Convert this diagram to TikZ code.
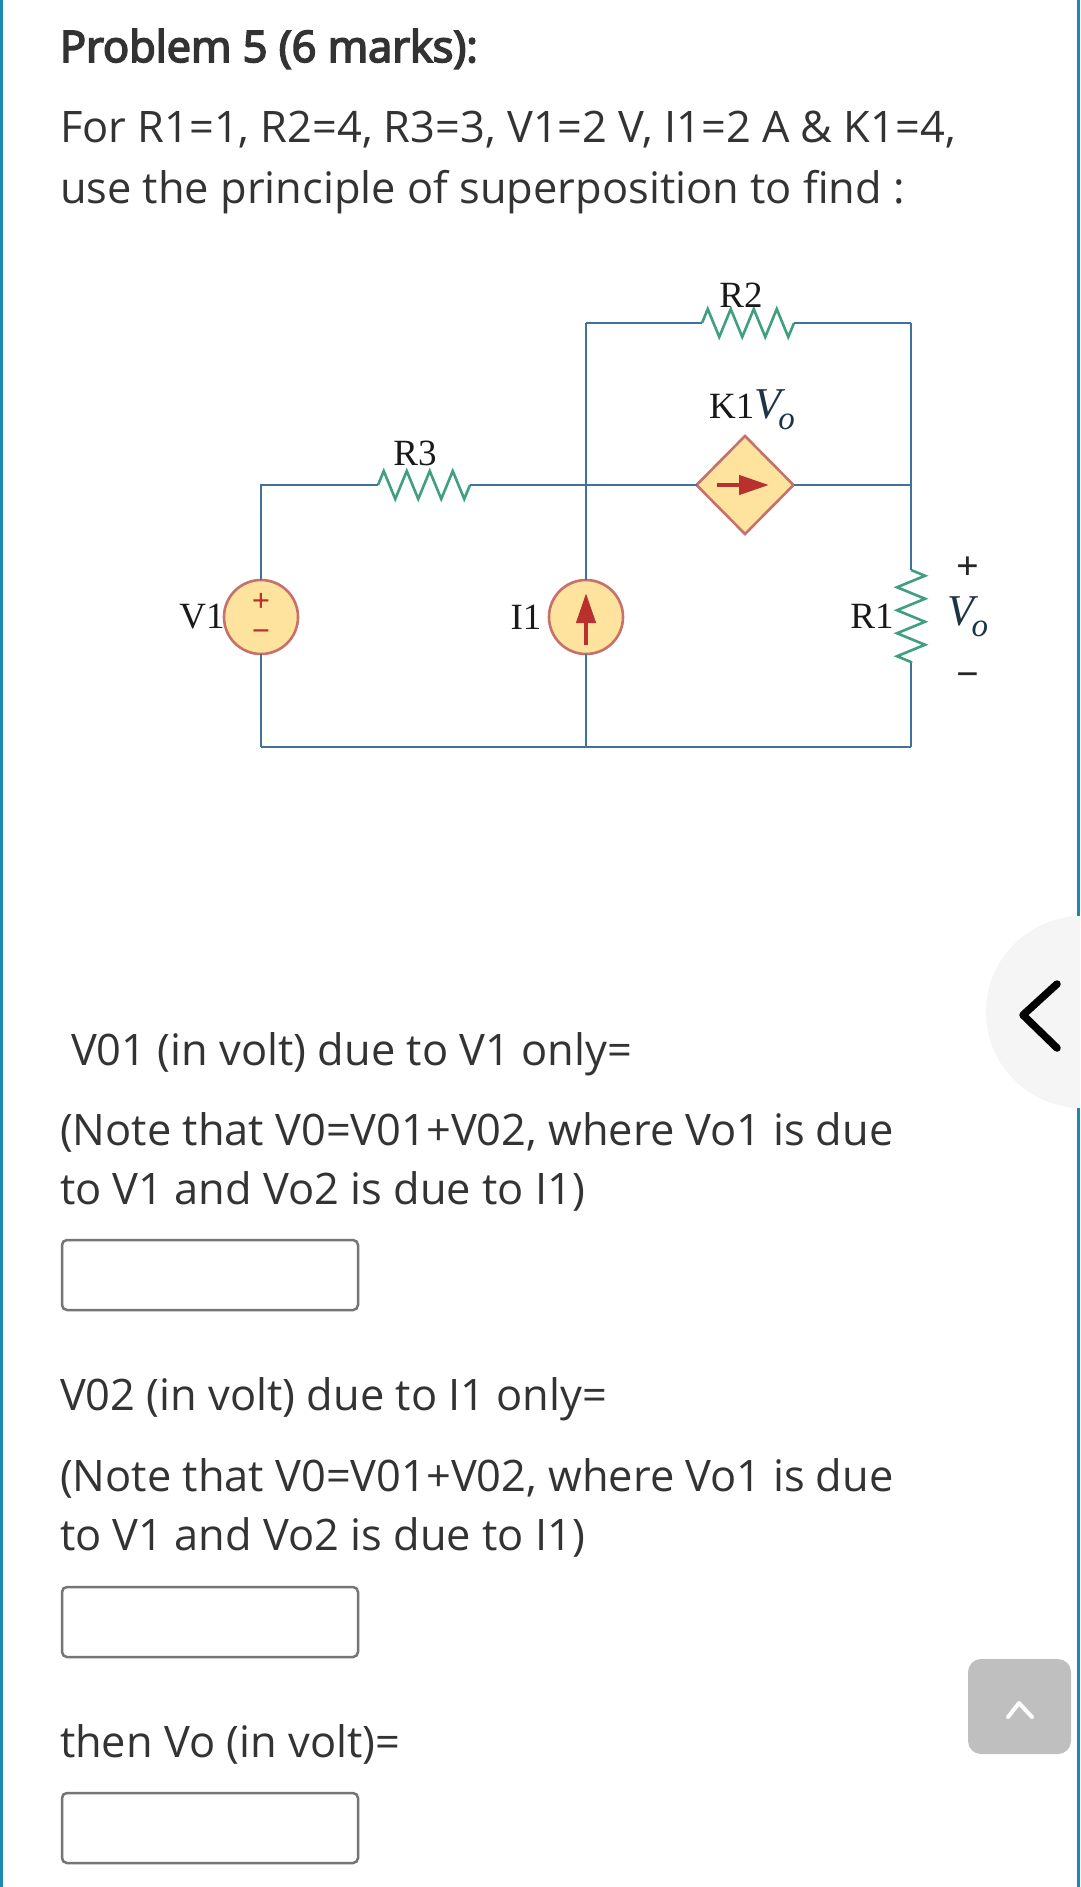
\documentclass[tikz,border=0pt]{standalone}
\usepackage{fontspec}
\setmainfont{Open Sans}
\newfontfamily\headfont[FakeBold=4]{Open Sans}
\newfontfamily\cktfont{Liberation Serif}
\usetikzlibrary{positioning, arrows.meta, shapes.geometric, decorations.pathmorphing}
\definecolor{wireblue}{HTML}{41729B}
\definecolor{resgreen}{HTML}{3F9F7F}
\definecolor{srcfill}{HTML}{FDE39E}
\definecolor{srcedge}{HTML}{C8706A}
\definecolor{srcred}{HTML}{B9312F}
\definecolor{textgrey}{HTML}{333333}
\definecolor{edgeblue}{HTML}{1E88B4}
\newcommand{\vosym}{{\itshape\color{wireblue!45!black}\fontsize{44}{44}\selectfont V\kern-3pt\raisebox{-11pt}{\fontsize{33}{33}\selectfont o}}}

\begin{document}
\begin{tikzpicture}[
		x=1pt, y=-1pt, on grid,
		bodytext/.style={anchor=base west, font=\fontsize{43.4}{50}\selectfont, text=textgrey, inner sep=0pt, outer sep=0pt},
		headtext/.style={bodytext, font=\fontsize{43.4}{50}\selectfont\headfont},
		inputbox/.style={rectangle, draw=black!54, line width=2.5pt, rounded corners=5pt, minimum width=296pt, minimum height=70pt, inner sep=0pt},
		wire/.style={draw=wireblue, line width=2.6pt},
		resistor/.style={draw=resgreen, line width=2.6pt, decorate, decoration={zigzag, segment length=23pt, amplitude=14pt}},
		vsrc/.style={circle, draw=srcedge, fill=srcfill, line width=2.6pt, minimum size=74pt, inner sep=0pt, outer sep=0pt},
		depsrc/.style={diamond, draw=srcedge, fill=srcfill, line width=2.6pt, minimum width=97pt, minimum height=98pt, inner sep=0pt, outer sep=0pt},
		srcarrow/.style={draw=srcred, fill=srcred, line width=4.5pt, -{Triangle[length=30pt, width=19pt]}},
		srcsign/.style={text=srcred, font=\fontsize{32}{32}\selectfont\cktfont\bfseries, inner sep=0pt},
		cktlabel/.style={font=\fontsize{37}{37}\selectfont\cktfont, text=black!90, inner sep=0pt},
		chevron/.style={line width=7.5pt, line cap=round, line join=round},
	]

	\clip (0,0) rectangle (1080,1887);
	\fill[white] (0,0) rectangle (1080,1887);

	% page edges
	\fill[edgeblue] (0,0) rectangle (3,1887);
	\fill[edgeblue] (1077,0) rectangle (1080,1887);
	\fill[black!4] (1082,1012) circle (96);
	\draw[chevron] (1057,984) -- (1023,1015) -- (1057,1048);
	\fill[black!25, rounded corners=13pt] (968,1659) rectangle (1071,1754);
	\draw[chevron, white, line width=4pt] (1008,1717) -- (1019,1703) -- (1032,1717);

	% text
	\node[headtext] (title) at (60,62) {Problem 5 (6 marks):};
	\node[bodytext] (given) at (60,142) {For R1=1, R2=4, R3=3, V1=2 V, I1=2 A \& K1=4,};
	\node[bodytext] (find) at (60,203) {use the principle of superposition to find :};
	\node[bodytext] (vonehead) at (71,1065) {V01 (in volt) due to V1 only=};
	\node[bodytext] (vonenote) at (60,1145) {(Note that V0=V01+V02, where Vo1 is due};
	\node[bodytext] (vonenoteb) at (60,1204) {to V1 and Vo2 is due to I1)};
	\node[inputbox] (voneinput) at (210,1275) {};
	\node[bodytext] (vtwohead) at (60,1410) {V02 (in volt) due to I1 only=};
	\node[bodytext] (vtwonote) at (60,1491) {(Note that V0=V01+V02, where Vo1 is due};
	\node[bodytext] (vtwonoteb) at (60,1550) {to V1 and Vo2 is due to I1)};
	\node[inputbox] (vtwoinput) at (210,1622) {};
	\node[bodytext] (vohead) at (60,1757) {then Vo (in volt)=};
	\node[inputbox] (voinput) at (210,1828) {};

	% circuit
	\node[vsrc] (v1) at (261,617) {};
	\node[vsrc, right=325pt of v1] (i1) {};
	\node[depsrc] (dep) at (745,485) {};
	\coordinate (r3l) at (378,485);
	\coordinate[right=92pt of r3l] (r3r);
	\coordinate (r2l) at (702,323);
	\coordinate[right=92pt of r2l] (r2r);
	\coordinate (r1t) at (911,570);
	\coordinate[below=93pt of r1t] (r1b);
	\coordinate (topleft) at (586,323);
	\coordinate (topright) at (911,323);
	\coordinate (midleft) at (586,485);
	\coordinate (midright) at (911,485);
	\coordinate (botleft) at (261,747);
	\coordinate (botmid) at (586,747);
	\coordinate (botright) at (911,747);

	\foreach \i/\j in {r3l/r3r, r2l/r2r, r1t/r1b}
		\draw[resistor] (\i) -- (\j);

	\foreach \i/\j in {r3r/dep, dep/midright, i1/topleft, topleft/r2l, r2r/topright, topright/r1t, r1b/botright, botright/botleft, i1/botmid, v1/botleft}
		\draw[wire] (\i) -- (\j);

	\draw[wire] (v1) |- (r3l);

	\draw[srcarrow] ([yshift=-28pt]i1.center) -- ([yshift=24pt]i1.center);
	\draw[srcarrow] ([xshift=-28pt]dep.center) -- ([xshift=24pt]dep.center);

	\node[srcsign, above=15pt of v1] (vplus) {+};
	\node[srcsign, below=19pt of v1] (vminus) {−};

	\node[cktlabel, left=59pt of v1] (v1lab) {V1};
	\node[cktlabel, left=60pt of i1] (i1lab) {I1};
	\node[cktlabel] (r3lab) at (415,453) {R3};
	\node[cktlabel] (r2lab) at (741,295) {R2};
	\node[cktlabel] (r1lab) at (872,616) {R1};
	\node[cktlabel, anchor=base] (deplab) at (752,418) {K1\vosym};
	\node[cktlabel, anchor=base] (volab) at (968,625) {\vosym};
	\node[srcsign, text=black!85, font=\fontsize{40}{40}\selectfont\cktfont\bfseries] (voplus) at (968,568) {+};
	\node[srcsign, text=black!85, font=\fontsize{40}{40}\selectfont\cktfont\bfseries] (vominus) at (968,680) {−};

\end{tikzpicture}
\end{document}
